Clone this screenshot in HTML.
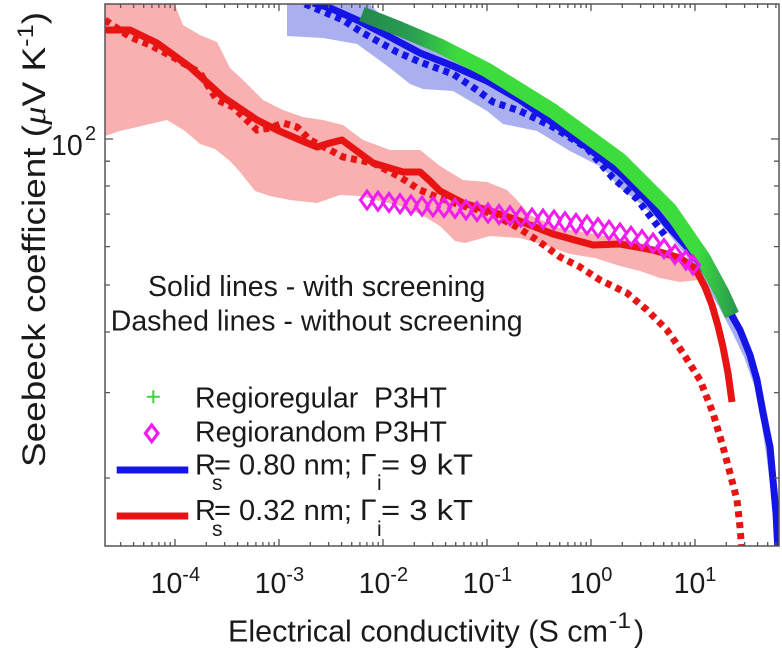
<!DOCTYPE html>
<html><head><meta charset="utf-8"><style>
html,body{margin:0;padding:0;background:#fff;}
svg{display:block;}
text{font-family:"Liberation Sans",Arial,sans-serif;fill:#1a1a1a;}
</style></head><body>
<svg width="782" height="650" viewBox="0 0 782 650" xmlns="http://www.w3.org/2000/svg">
<defs>
<clipPath id="pa"><rect x="105" y="4" width="674" height="542"/></clipPath>
<linearGradient id="gg" gradientUnits="userSpaceOnUse" x1="360" y1="0" x2="735" y2="0">
<stop offset="0" stop-color="#23884c"/><stop offset="0.14" stop-color="#2a9e52"/><stop offset="0.26" stop-color="#3ddc3d"/><stop offset="0.9" stop-color="#3ddc3d"/><stop offset="1" stop-color="#2a9a50"/>
</linearGradient>
</defs>
<g clip-path="url(#pa)">
<polygon fill="#f8b0b0" points="105,0 173,0 183,25 200,35 217,42 230,68 243,80 263,100 283,110 303,117 323,120 343,125 363,140 390,150 420,150 440,166 463,180 487,182 507,190 517,200 530,215 560,228 600,235 640,243 670,252 690,262 702,272 698,280 680,282 660,278 640,271 620,266 595,258 570,254 545,245 520,238 490,236 465,243 455,241 440,226 420,214 400,206 380,201 360,196 340,195 317,203 290,200 270,196 255,191 240,172 230,161 215,149 200,144 185,131 167,120 150,124 120,131 105,136"/>
<polygon fill="#aab0ef" points="287,0 365,0 380,14 420,40 487,67 553,108 620,157 670,205 700,245 720,283 735,313 748,343 760,378 768,418 774,458 778,498 782,546 775,546 772,500 767,460 761,420 754,385 744,357 732,332 719,307 704,282 689,260 672,238 655,217 637,201 620,188 603,168 570,151 537,131 503,124 487,111 453,91 423,89 410,84 390,68 357,44 323,38 287,36"/>
<polyline fill="none" stroke="#e81414" stroke-width="7" stroke-dasharray="6 5" points="105,20 130,37 150,45 173,57 200,73 217,100 233,107 257,130 270,128 283,123 297,127 310,140 330,150 343,157 373,163 400,177 420,190 437,197 460,205 490,213 517,227 537,240 560,257 580,267 600,280 627,293 647,310 667,330 683,353 700,380 713,413 723,447 730,473 737,500 740,527 742,552"/>
<polyline fill="none" stroke="#e81414" stroke-width="7" stroke-linejoin="round" points="105,30 130,30 157,43 190,67 223,97 257,120 277,130 300,140 317,147 330,143 342,140 373,163 403,172 420,172 430,181 440,191 463,203 487,210 517,220 553,234 593,245 620,244 653,250 680,258 695,268 705,287 712,305 718,326 723,347 728,373 732,402"/>
<polyline fill="none" stroke="#1414e6" stroke-width="7" stroke-linejoin="round" points="313,3 330,8 357,20 390,37 420,53 453,66 487,81 520,100 553,123 587,147 620,173 647,200 667,225 687,247 700,263 713,283 727,307 740,330 750,355 757,380 763,413 770,447 773,480 776,513 778,552"/>
<polyline fill="none" stroke="#1414e6" stroke-width="7" stroke-dasharray="6 5" points="305,4 343,20 363,33 397,52 420,62 453,74 477,90 493,102 520,111 553,127 587,148 613,178 637,199 653,220 667,238"/>
<polyline fill="none" stroke="url(#gg)" stroke-width="15" stroke-linejoin="round" points="362,14 400,29 440,46 487,70 553,111 620,160 670,210 703,258 722,293 732,315"/>
<path fill="none" stroke="#f01cf0" stroke-width="3" d="M367,191L373.5,200L367,209L360.5,200Z M378,192.2L384.5,201.2L378,210.2L371.5,201.2Z M389,193.5L395.5,202.5L389,211.5L382.5,202.5Z M400,194.7L406.5,203.7L400,212.7L393.5,203.7Z M411,196L417.5,205L411,214L404.5,205Z M422,197.1L428.5,206.1L422,215.1L415.5,206.1Z M433,197.8L439.5,206.8L433,215.8L426.5,206.8Z M444,198.5L450.5,207.5L444,216.5L437.5,207.5Z M455,199.3L461.5,208.3L455,217.3L448.5,208.3Z M466,200.9L472.5,209.9L466,218.9L459.5,209.9Z M477,202.5L483.5,211.5L477,220.5L470.5,211.5Z M488,204.1L494.5,213.1L488,222.1L481.5,213.1Z M499,205.5L505.5,214.5L499,223.5L492.5,214.5Z M510,206.8L516.5,215.8L510,224.8L503.5,215.8Z M521,208.1L527.5,217.1L521,226.1L514.5,217.1Z M532,209.1L538.5,218.1L532,227.1L525.5,218.1Z M543,210.1L549.5,219.1L543,228.1L536.5,219.1Z M554,211.1L560.5,220.1L554,229.1L547.5,220.1Z M565,212.8L571.5,221.8L565,230.8L558.5,221.8Z M576,214.4L582.5,223.4L576,232.4L569.5,223.4Z M587,216L593.5,225L587,234L580.5,225Z M598,218.7L604.5,227.7L598,236.7L591.5,227.7Z M609,221.3L615.5,230.3L609,239.3L602.5,230.3Z M620,224L626.5,233L620,242L613.5,233Z M631,227.3L637.5,236.3L631,245.3L624.5,236.3Z M642,230.7L648.5,239.7L642,248.7L635.5,239.7Z M653,234L659.5,243L653,252L646.5,243Z M664,239.6L670.5,248.6L664,257.6L657.5,248.6Z M675,245.4L681.5,254.4L675,263.4L668.5,254.4Z M686,251.1L692.5,260.1L686,269.1L679.5,260.1Z M693,256L699.5,265L693,274L686.5,265Z"/>
</g>
<rect x="105" y="4" width="674" height="542" fill="none" stroke="#555" stroke-width="1.5"/>
<path fill="none" stroke="#555" stroke-width="1.3" d="M175,546v-7M279,546v-7M383,546v-7M487,546v-7M591,546v-7M695,546v-7M175,4v7M279,4v7M383,4v7M487,4v7M591,4v7M695,4v7
M120.6,546v-4M133.6,546v-4M143.7,546v-4M151.9,546v-4M158.9,546v-4M164.9,546v-4M170.2,546v-4
M206.3,546v-4M224.6,546v-4M237.6,546v-4M247.7,546v-4M255.9,546v-4M262.9,546v-4M268.9,546v-4M274.2,546v-4
M310.3,546v-4M328.6,546v-4M341.6,546v-4M351.7,546v-4M359.9,546v-4M366.9,546v-4M372.9,546v-4M378.2,546v-4
M414.3,546v-4M432.6,546v-4M445.6,546v-4M455.7,546v-4M463.9,546v-4M470.9,546v-4M476.9,546v-4M482.2,546v-4
M518.3,546v-4M536.6,546v-4M549.6,546v-4M559.7,546v-4M567.9,546v-4M574.9,546v-4M580.9,546v-4M586.2,546v-4
M622.3,546v-4M640.6,546v-4M653.6,546v-4M663.7,546v-4M671.9,546v-4M678.9,546v-4M684.9,546v-4M690.2,546v-4
M726.3,546v-4M744.6,546v-4M757.6,546v-4M767.7,546v-4M775.9,546v-4
M120.6,4v4M133.6,4v4M143.7,4v4M151.9,4v4M158.9,4v4M164.9,4v4M170.2,4v4
M206.3,4v4M224.6,4v4M237.6,4v4M247.7,4v4M255.9,4v4M262.9,4v4M268.9,4v4M274.2,4v4
M310.3,4v4M328.6,4v4M341.6,4v4M351.7,4v4M359.9,4v4M366.9,4v4M372.9,4v4M378.2,4v4
M414.3,4v4M432.6,4v4M445.6,4v4M455.7,4v4M463.9,4v4M470.9,4v4M476.9,4v4M482.2,4v4
M518.3,4v4M536.6,4v4M549.6,4v4M559.7,4v4M567.9,4v4M574.9,4v4M580.9,4v4M586.2,4v4
M622.3,4v4M640.6,4v4M653.6,4v4M663.7,4v4M671.9,4v4M678.9,4v4M684.9,4v4M690.2,4v4
M726.3,4v4M744.6,4v4M757.6,4v4M767.7,4v4M775.9,4v4
M105,139h8M105,161.2h5M105,186h5M105,214.1h5M105,246.6h5M105,285h5M105,332h5M105,392.6h5M105,478h5
M779,139h-8M779,161.2h-5M779,186h-5M779,214.1h-5M779,246.6h-5M779,285h-5M779,332h-5M779,392.6h-5M779,478h-5"/>
<text x="51" y="155" font-size="28.5">10</text><text x="85" y="140" font-size="20">2</text>
<text x="150.6" y="593" font-size="28.5">10</text><text x="182.3" y="581" font-size="20">-4</text>
<text x="254.6" y="593" font-size="28.5">10</text><text x="286.3" y="581" font-size="20">-3</text>
<text x="358.6" y="593" font-size="28.5">10</text><text x="390.3" y="581" font-size="20">-2</text>
<text x="462.6" y="593" font-size="28.5">10</text><text x="494.3" y="581" font-size="20">-1</text>
<text x="569.6" y="593" font-size="28.5">10</text><text x="601.3" y="581" font-size="20">0</text>
<text x="673.6" y="593" font-size="28.5">10</text><text x="705.3" y="581" font-size="20">1</text>
<text x="228" y="641.7" font-size="30.5" textLength="380" lengthAdjust="spacingAndGlyphs">Electrical conductivity (S cm</text>
<text x="609" y="628" font-size="22" textLength="22" lengthAdjust="spacingAndGlyphs">-1</text>
<text x="634" y="641.7" font-size="30.5">)</text>
<text transform="translate(45,467) rotate(-90)" font-size="32" textLength="455" lengthAdjust="spacingAndGlyphs">Seebeck coefficient (<tspan font-family="Liberation Serif" font-style="italic">μ</tspan>V K<tspan dy="-12" font-size="22">-1</tspan><tspan dy="12">)</tspan></text>
<text x="316.7" y="296" font-size="28.5" text-anchor="middle">Solid lines - with screening</text>
<text x="316.7" y="330.7" font-size="28.5" text-anchor="middle">Dashed lines - without screening</text>
<path d="M146.8,396.7h13M153.3,390.2v13" stroke="#44d044" stroke-width="2" fill="none"/>
<text x="195" y="407.3" font-size="28.5">Regioregular &#160;P3HT</text>
<path d="M151.7,425L158,433.3L151.7,441.6L145.4,433.3Z" stroke="#f01cf0" stroke-width="3.2" fill="none"/>
<text x="195" y="441.7" font-size="28.5">Regiorandom P3HT</text>
<path d="M116.7,470H188.3" stroke="#1414e6" stroke-width="7"/>
<text x="195" y="474.3" font-size="29">R</text>
<text x="212" y="490" font-size="21">s</text>
<text x="214" y="474.3" font-size="29" textLength="138" lengthAdjust="spacingAndGlyphs">= 0.80 nm;</text>
<text x="360" y="474.3" font-size="30" font-family="Liberation Serif">Γ</text>
<text x="377" y="490" font-size="21">i</text>
<text x="381" y="474.3" font-size="29" textLength="92" lengthAdjust="spacingAndGlyphs">= 9 kT</text>
<path d="M116.7,516H188.3" stroke="#e81414" stroke-width="7"/>
<text x="195" y="520" font-size="29">R</text>
<text x="212" y="536" font-size="21">s</text>
<text x="214" y="520" font-size="29" textLength="138" lengthAdjust="spacingAndGlyphs">= 0.32 nm;</text>
<text x="360" y="520" font-size="30" font-family="Liberation Serif">Γ</text>
<text x="377" y="536" font-size="21">i</text>
<text x="381" y="520" font-size="29" textLength="92" lengthAdjust="spacingAndGlyphs">= 3 kT</text>
</svg>
</body></html>
